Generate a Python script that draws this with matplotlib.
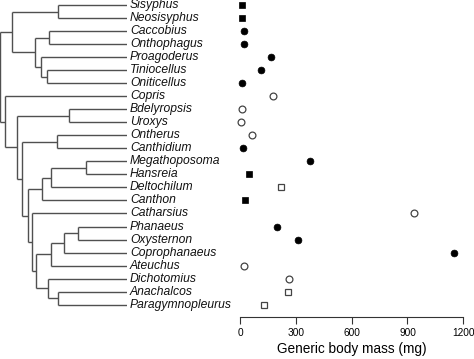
import matplotlib
matplotlib.use("Agg")
import matplotlib.pyplot as plt

# genera in tip order (top to bottom)
genera = ['Sisyphus', 'Neosisyphus', 'Caccobius', 'Onthophagus', 'Proagoderus',
          'Tiniocellus', 'Oniticellus', 'Copris', 'Bdelyropsis', 'Uroxys',
          'Ontherus', 'Canthidium', 'Megathoposoma', 'Hansreia', 'Deltochilum',
          'Canthon', 'Catharsius', 'Phanaeus', 'Oxysternon', 'Coprophanaeus',
          'Ateuchus', 'Dichotomius', 'Anachalcos', 'Paragymnopleurus']
# generic body mass (mg)
mass = [12, 9, 23, 22, 164, 112, 12, 176, 12, 7, 63, 18, 374, 49, 218, 29,
        935, 201, 311, 1150, 20, 263, 257, 128]
guild = ['roller', 'roller', 'tunneler', 'tunneler', 'tunneler', 'tunneler',
         'tunneler', 'tunneler', 'tunneler', 'tunneler', 'tunneler', 'tunneler',
         'tunneler', 'roller', 'roller', 'roller', 'tunneler', 'tunneler',
         'tunneler', 'tunneler', 'tunneler', 'tunneler', 'roller', 'roller']
diel = ['diurnal', 'diurnal', 'diurnal', 'diurnal', 'diurnal', 'diurnal',
        'diurnal', 'nocturnal', 'nocturnal', 'nocturnal', 'nocturnal', 'diurnal',
        'diurnal', 'diurnal', 'nocturnal', 'diurnal', 'nocturnal', 'diurnal',
        'diurnal', 'diurnal', 'nocturnal', 'nocturnal', 'nocturnal', 'nocturnal']
mass_ticks = [0, 300, 600, 900, 1200]

# tree: (node depth, [children]); tips at depth 127
tip_depth = 127
tree = (0, [
    (12.3, [(58.3, ['Sisyphus', 'Neosisyphus']),
            (35, [(49, ['Caccobius', 'Onthophagus']),
                  (40.7, ['Proagoderus', (46.7, ['Tiniocellus', 'Oniticellus'])])])]),
    (5, ['Copris',
         (17.3, [(69, ['Bdelyropsis', 'Uroxys']),
                 (22.3, [(57.3, ['Ontherus', 'Canthidium']),
                         (28.3, [(41.7, [(50.7, [(86, ['Megathoposoma', 'Hansreia']),
                                                 'Deltochilum']),
                                         'Canthon']),
                                 (32.3, ['Catharsius',
                                         (36, [(50.7, [(64.3, [(77.7, ['Phanaeus', 'Oxysternon']),
                                                               'Coprophanaeus']),
                                                       'Ateuchus']),
                                               (48.3, ['Dichotomius',
                                                       (58.3, ['Anachalcos', 'Paragymnopleurus'])])])])])])])]),
])

plt.rcParams['font.family'] = ['Liberation Sans', 'DejaVu Sans']

W, H = 474, 359
fig = plt.figure(figsize=(W / 100, H / 100), dpi=100)

row = 13.03
y0 = 5.0
n = len(genera)
top_row = -y0 / row

# tree axes
tree_bottom = 317.3
ax_t = fig.add_axes([-2 / W, 1 - tree_bottom / H, 129 / W, tree_bottom / H])
ax_t.set_xlim(-2, tip_depth)
ax_t.set_ylim((tree_bottom - y0) / row, top_row)
ax_t.axis('off')

line_kw = dict(color='#505050', lw=1.0, solid_capstyle='butt')


def draw(node, px):
    if isinstance(node, str):
        yi = genera.index(node)
        ax_t.plot([px, tip_depth], [yi, yi], **line_kw)
        ax_t.text(tip_depth + 3, yi, node, style='italic', fontsize=8.7,
                  color='#111111', va='center', ha='left', clip_on=False)
        return yi
    x, kids = node
    ys = [draw(k, x) for k in kids]
    ym = (ys[0] + ys[-1]) / 2
    ax_t.plot([x, x], [ys[0], ys[-1]], **line_kw)
    if px is not None:
        ax_t.plot([px, x], [ym, ym], **line_kw)
    return ym


draw(tree, None)

# body mass axes
x_left, x_right = 240, 463.3
ax = fig.add_axes([x_left / W, 1 - tree_bottom / H, (x_right - x_left) / W, tree_bottom / H])
ax.set_xlim(0, 1200)
ax.set_ylim((tree_bottom - y0) / row, top_row)
for s in ['top', 'right', 'left']:
    ax.spines[s].set_visible(False)
ax.spines['bottom'].set_linewidth(0.8)
ax.spines['bottom'].set_color('#333333')
ax.set_yticks([])
ax.set_xticks(mass_ticks)
ax.set_xticklabels([str(t) for t in mass_ticks], fontsize=7.3)
ax.tick_params(axis='x', length=5, width=0.8, color='#333333', pad=3)
ax.set_xlabel('Generic body mass (mg)', fontsize=9.8, labelpad=2.5)

for i in range(n):
    marker = 's' if guild[i] == 'roller' else 'o'
    size = 4.4 if marker == 's' else 4.9
    if diel[i] == 'diurnal':
        ax.plot(mass[i], i, marker=marker, ms=size, color='black', mec='black',
                mew=0.5, ls='none', clip_on=False)
    else:
        ax.plot(mass[i], i, marker=marker, ms=size, mfc='white', mec='#444444',
                mew=0.9, ls='none', clip_on=False)

fig.savefig('out.png', dpi=100)
